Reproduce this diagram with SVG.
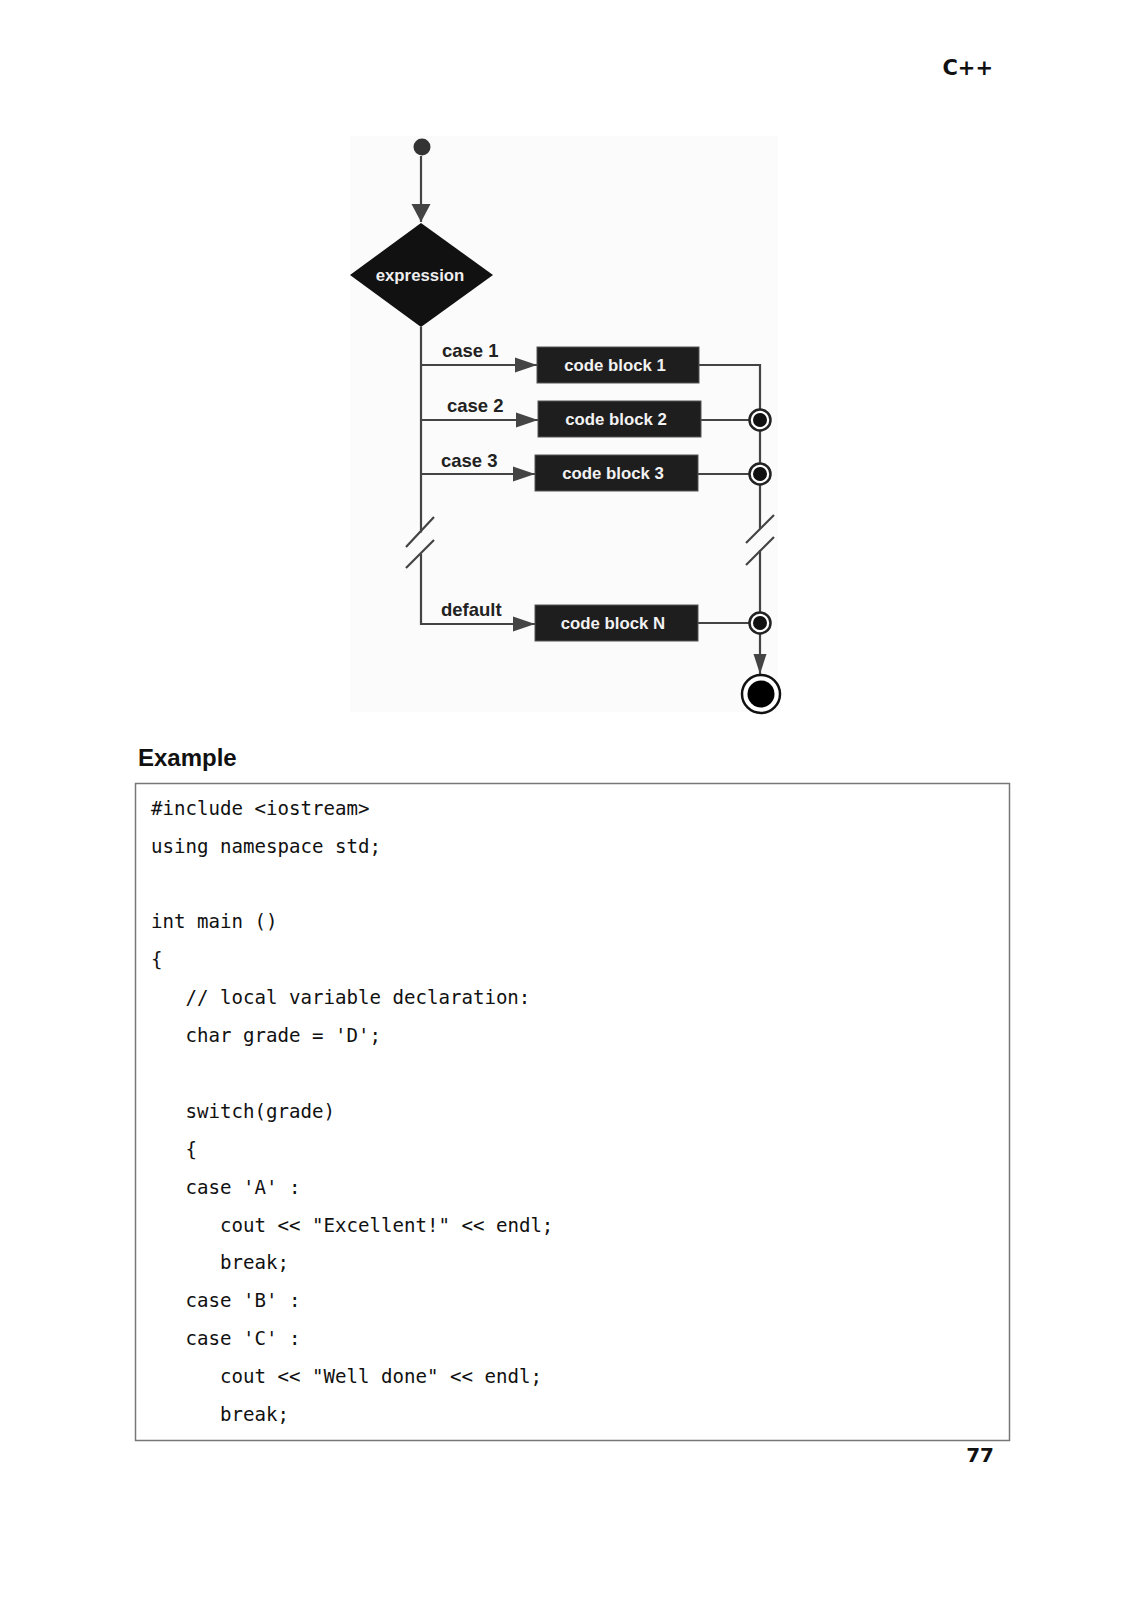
<svg xmlns="http://www.w3.org/2000/svg" width="1132" height="1600" viewBox="0 0 1132 1600">
<style>
.lbl{font-family:"Liberation Sans",Arial,sans-serif;font-weight:bold;font-size:18.5px;fill:#222}
.blk{fill:#1e1e1e;stroke:#555;stroke-width:1}
.btx{font-family:"Liberation Sans",Arial,sans-serif;font-weight:bold;font-size:16.8px;fill:#f2f2f2;text-anchor:middle}
.ln{fill:none;stroke:#444;stroke-width:2.2}
.code{font-family:"DejaVu Sans Mono","Liberation Mono",monospace;font-size:19.1px;fill:#111}
.hdr{font-family:"DejaVu Sans","Liberation Sans",sans-serif;font-weight:bold;fill:#111}
</style>
<defs>
<marker id="ah" markerUnits="userSpaceOnUse" markerWidth="22" markerHeight="16" refX="22" refY="8" orient="auto"><path d="M0,0.5 L22,8 L0,15.5 z" fill="#444"/></marker>
<marker id="ahTop" markerUnits="userSpaceOnUse" markerWidth="18" markerHeight="20" refX="18" refY="10" orient="auto"><path d="M0,0.5 L18,10 L0,19.5 z" fill="#444"/></marker>
<marker id="ahEnd" markerUnits="userSpaceOnUse" markerWidth="20" markerHeight="14" refX="20" refY="7" orient="auto"><path d="M0,0.5 L20,7 L0,13.5 z" fill="#444"/></marker>
</defs>
<rect width="1132" height="1600" fill="#fff"/>
<text class="hdr" x="993" y="75" font-size="21" text-anchor="end">C++</text>
<rect x="350" y="136" width="428" height="576" fill="#fbfbfb"/>
<g id="connectors">
<path class="ln" d="M421,156 V222" marker-end="url(#ahTop)"/>
<path class="ln" d="M421,327 V532.5"/>
<path class="ln" d="M421,554 V624 H535" marker-end="url(#ah)"/>
<path class="ln" d="M421,365 H537" marker-end="url(#ah)"/>
<path class="ln" d="M421,420 H538" marker-end="url(#ah)"/>
<path class="ln" d="M421,474 H535" marker-end="url(#ah)"/>
<path class="ln" d="M699,365 H760 V529"/>
<path class="ln" d="M760,550 V623"/>
<path class="ln" d="M701,420 H760"/>
<path class="ln" d="M698,474 H760"/>
<path class="ln" d="M698,623 H760"/>
<path class="ln" d="M760,633 V674" marker-end="url(#ahEnd)"/>
<path class="ln" d="M406,547 L434,517 M406,568 L434,540"/>
<path class="ln" d="M746,543 L774,515 M746,565 L774,537"/>
<text class="lbl" x="442" y="357">case 1</text>
<text class="lbl" x="447" y="412">case 2</text>
<text class="lbl" x="441" y="467">case 3</text>
<text class="lbl" x="441" y="616">default</text>
</g>
<g id="start"><circle cx="422" cy="147" r="8.5" fill="#333"/></g>
<g id="expression">
<polygon points="421,223 493,275 421,327 350,275" fill="#111"/>
<text x="420" y="281" font-family="Liberation Sans,Arial,sans-serif" font-weight="bold" font-size="16.8" fill="#eee" text-anchor="middle">expression</text>
</g>
<g id="block1"><rect class="blk" x="537" y="347" width="162" height="36"/><text class="btx" x="615" y="371">code block 1</text></g>
<g id="block2"><rect class="blk" x="538" y="401" width="163" height="36"/><text class="btx" x="616" y="425">code block 2</text></g>
<g id="block3"><rect class="blk" x="535" y="455" width="163" height="36"/><text class="btx" x="613" y="479">code block 3</text></g>
<g id="blockN"><rect class="blk" x="535" y="605" width="163" height="36"/><text class="btx" x="613" y="629">code block N</text></g>
<g id="junction2"><circle cx="760" cy="420" r="10.5" fill="#fff" stroke="#222" stroke-width="2.5"/><circle cx="760" cy="420" r="7" fill="#111"/></g>
<g id="junction3"><circle cx="760" cy="474" r="10.5" fill="#fff" stroke="#222" stroke-width="2.5"/><circle cx="760" cy="474" r="7" fill="#111"/></g>
<g id="junctionN"><circle cx="760" cy="623" r="10.5" fill="#fff" stroke="#222" stroke-width="2.5"/><circle cx="760" cy="623" r="7" fill="#111"/></g>
<g id="end"><circle cx="761" cy="694" r="19" fill="#fff" stroke="#111" stroke-width="2.5"/><circle cx="761" cy="694" r="13.5" fill="#000"/></g>
<text x="138" y="766" font-family="Liberation Sans,Arial,sans-serif" font-weight="bold" font-size="24" fill="#111">Example</text>
<rect x="135.5" y="783.5" width="874" height="657" fill="none" stroke="#777" stroke-width="1.5"/>
<g class="code">
<text class="code" x="151" y="815">#include &lt;iostream&gt;</text>
<text class="code" x="151" y="853">using namespace std;</text>
<text class="code" x="151" y="928">int main ()</text>
<text class="code" x="151" y="966">{</text>
<text class="code" x="185.5" y="1004">// local variable declaration:</text>
<text class="code" x="185.5" y="1042">char grade = 'D';</text>
<text class="code" x="185.5" y="1118">switch(grade)</text>
<text class="code" x="185.5" y="1156">{</text>
<text class="code" x="185.5" y="1194">case 'A' :</text>
<text class="code" x="220" y="1232">cout &lt;&lt; "Excellent!" &lt;&lt; endl;</text>
<text class="code" x="220" y="1269">break;</text>
<text class="code" x="185.5" y="1307">case 'B' :</text>
<text class="code" x="185.5" y="1345">case 'C' :</text>
<text class="code" x="220" y="1383">cout &lt;&lt; "Well done" &lt;&lt; endl;</text>
<text class="code" x="220" y="1421">break;</text>
</g>
<text class="hdr" x="994" y="1462" font-size="20" text-anchor="end">77</text>
</svg>
